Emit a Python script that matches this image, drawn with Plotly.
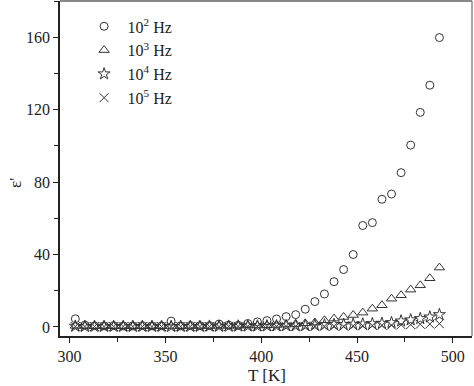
import plotly.graph_objects as go

temperature_K = [303, 308, 313, 318, 323, 328, 333, 338, 343, 348, 353, 358, 363,
                 368, 373, 378, 383, 388, 393, 398, 403, 408, 413, 418, 423, 428,
                 433, 438, 443, 448, 453, 458, 463, 468, 473, 478, 483, 488, 493]

eps_1e2 = [4.5, 1.0, 0.6, 0.6, 0.7, 0.6, 0.6, 0.7, 0.6, 0.6, 3.2, 0.6, 0.8,
           0.7, 0.7, 1.6, 1.0, 0.9, 1.9, 2.8, 3.5, 4.4, 5.7, 6.8, 9.8, 14.0,
           18.2, 25.0, 31.7, 40.0, 56.0, 57.6, 70.5, 73.4, 85.2, 100.4, 118.5, 133.5, 159.8]

eps_1e3 = [0.6, 0.5, 0.4, 0.4, 0.4, 0.4, 0.4, 0.4, 0.4, 0.4, 0.5, 0.4, 0.5,
           0.5, 0.5, 0.6, 0.6, 0.7, 0.8, 0.8, 0.9, 1.1, 1.3, 1.6, 2.0, 2.4,
           3.7, 4.6, 5.5, 6.6, 7.9, 10.1, 12.0, 15.6, 17.5, 20.6, 23.0, 26.9, 32.8]

eps_1e4 = [0.4, 0.3, 0.3, 0.3, 0.3, 0.3, 0.3, 0.3, 0.3, 0.3, 0.3, 0.3, 0.3,
           0.3, 0.4, 0.4, 0.4, 0.5, 0.5, 0.5, 0.6, 0.6, 0.7, 0.7, 0.8, 1.0,
           1.1, 1.3, 1.4, 1.5, 1.6, 1.8, 2.0, 2.4, 3.3, 3.9, 4.6, 5.5, 6.8]

eps_1e5 = [0.2, 0.2, 0.2, 0.2, 0.2, 0.2, 0.2, 0.2, 0.2, 0.2, 0.2, 0.2, 0.2,
           0.2, 0.2, 0.2, 0.3, 0.3, 0.3, 0.3, 0.3, 0.3, 0.3, 0.3, 0.3, 0.4,
           0.4, 0.4, 0.4, 0.6, 0.7, 0.8, 0.9, 1.0, 1.2, 1.3, 1.5, 1.6, 1.8]

series_names = ["10<sup>2</sup> Hz", "10<sup>3</sup> Hz", "10<sup>4</sup> Hz", "10<sup>5</sup> Hz"]
series_values = [eps_1e2, eps_1e3, eps_1e4, eps_1e5]
symbols = ["circle-open", "triangle-up-open", "star-open", "x-thin-open"]
sizes = [8, 9, 9, 9]

x_ticks = [300, 350, 400, 450, 500]
y_ticks = [0, 40, 80, 120, 160]

FONT = "Liberation Serif, Times New Roman, serif"
INK = "#333333"

fig = go.Figure()
for name, vals, sym, sz in zip(series_names, series_values, symbols, sizes):
    fig.add_trace(go.Scatter(
        x=temperature_K, y=vals, mode="markers", name=name,
        marker=dict(symbol=sym, size=sz, color=INK, line=dict(width=1, color=INK)),
    ))

axis_common = dict(
    showgrid=False, zeroline=False, ticks="outside", ticklen=5, tickwidth=1,
    tickcolor="#222", showline=True, linecolor="#222", linewidth=1.5,
    mirror=False, automargin=False,
    tickfont=dict(family=FONT, size=16, color="#222"),
)

fig.update_layout(
    width=474, height=386,
    margin=dict(l=60, r=2, t=1, b=50),
    paper_bgcolor="white", plot_bgcolor="white",
    font=dict(family=FONT, color="#222"),
    showlegend=True,
    legend=dict(x=0.05, y=0.975, xanchor="left", yanchor="top",
                bgcolor="rgba(0,0,0,0)", font=dict(family=FONT, size=16, color="#222"),
                tracegroupgap=0, itemwidth=37),
    xaxis=dict(range=[295, 510], tickvals=x_ticks,
               minor=dict(ticks="outside", ticklen=4, dtick=25, tick0=300, tickcolor="#222"),
               **axis_common),
    yaxis=dict(range=[-5, 180], tickvals=y_ticks,
               minor=dict(ticks="outside", ticklen=4, dtick=20, tick0=0, tickcolor="#222"),
               **axis_common),
    annotations=[
        dict(text="T [K]", xref="paper", yref="paper", x=(267 - 60) / 412, y=-(375 - 335) / 335,
             xanchor="center", yanchor="middle", showarrow=False,
             font=dict(family=FONT, size=17, color="#222")),
        dict(text="ε'", xref="paper", yref="paper", x=-(60 - 15) / 412, y=(335 - 182) / 335,
             xanchor="center", yanchor="middle", showarrow=False, textangle=-90,
             font=dict(family=FONT, size=17, color="#222")),
    ],
)

# grey frame on top and right
fig.add_shape(type="line", xref="paper", yref="paper", x0=0, x1=1, y0=1, y1=1,
              line=dict(color="#888", width=2))
fig.add_shape(type="line", xref="paper", yref="paper", x0=1, x1=1, y0=0, y1=1,
              line=dict(color="#888", width=1.5))

fig.write_html("out.html", config={"displayModeBar": False},
               post_script="document.body.style.margin='0';document.body.style.overflow='hidden';")
